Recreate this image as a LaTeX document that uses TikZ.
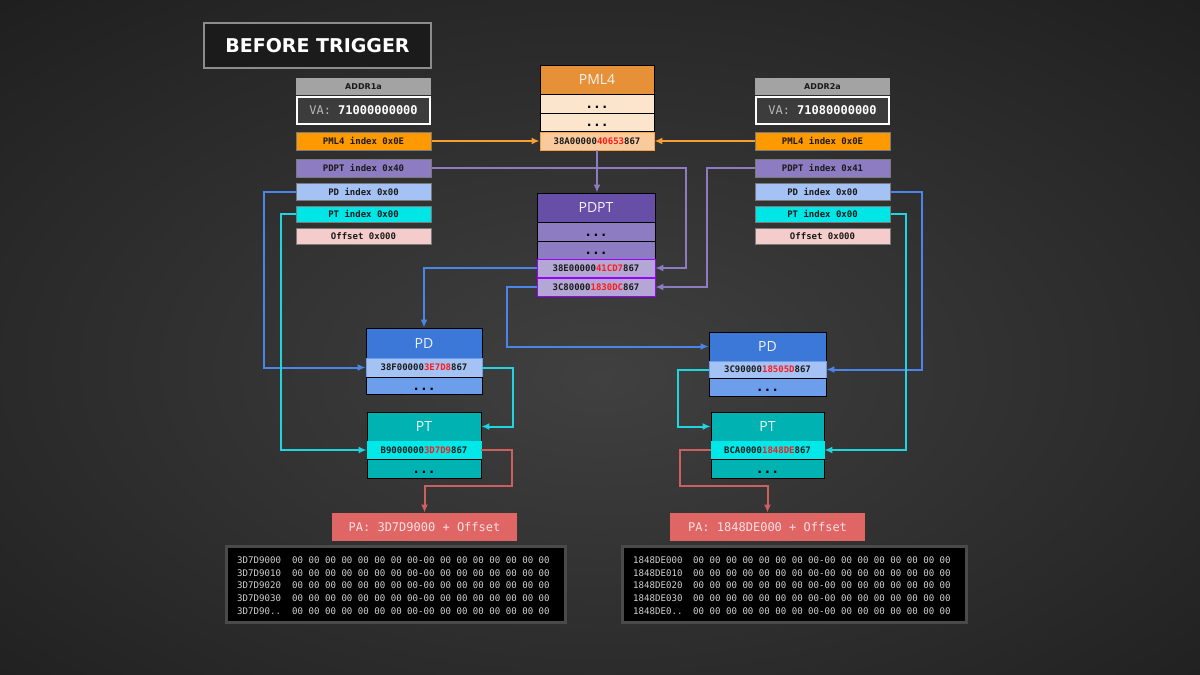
\documentclass[tikz,border=0pt]{standalone}
\usepackage{fontspec}
\setmainfont{Open Sans}
\newfontfamily\mono{DejaVu Sans Mono}
\newfontfamily\dvs{DejaVu Sans}
\usetikzlibrary{arrows.meta}
\definecolor{bgA}{HTML}{404040}
\definecolor{bgB}{HTML}{252525}
\definecolor{bgC}{HTML}{121212}
\pgfdeclareradialshading{bgshade}{\pgfpoint{0bp}{-3bp}}{color(0bp)=(bgA); color(30bp)=(bgB); color(50bp)=(bgC); color(75bp)=(bgC)}
\definecolor{titlefill}{HTML}{1B1B1B}
\definecolor{titleborder}{HTML}{8C8C8C}
\definecolor{addrgray}{HTML}{A3A3A3}
\definecolor{vafill}{HTML}{3C3C3C}
\definecolor{vagray}{HTML}{B8B8B8}
\definecolor{idxborder}{HTML}{7A7A7A}
\definecolor{txtdark}{HTML}{1A1A1A}
\definecolor{cPMLidx}{HTML}{FF9900}
\definecolor{cPDPTidx}{HTML}{8E7CC3}
\definecolor{cPDidx}{HTML}{A4C2F4}
\definecolor{cPTidx}{HTML}{00E5E5}
\definecolor{cOFFidx}{HTML}{F4CCCC}
\definecolor{pmlhdr}{HTML}{E69138}
\definecolor{pmlrow}{HTML}{FCE5CD}
\definecolor{pmlent}{HTML}{F9CB9C}
\definecolor{pmlbord}{HTML}{F5A04A}
\definecolor{pdpthdr}{HTML}{674EA7}
\definecolor{pdptrow}{HTML}{8E7CC3}
\definecolor{pdptent}{HTML}{B4A7D6}
\definecolor{pdptbord}{HTML}{9900FF}
\definecolor{pdhdr}{HTML}{3C78D8}
\definecolor{pdrow}{HTML}{6D9EEB}
\definecolor{pdent}{HTML}{A4C2F4}
\definecolor{pdbord}{HTML}{6D9EEB}
\definecolor{pthdr}{HTML}{00B2B2}
\definecolor{ptent}{HTML}{00E8E8}
\definecolor{hdrtxt}{HTML}{F2F2F2}
\definecolor{hexred}{HTML}{FF1A1A}
\definecolor{pafill}{HTML}{E06666}
\definecolor{patxt}{HTML}{FCE0E0}
\definecolor{memborder}{HTML}{4A4A4A}
\definecolor{memtxt}{HTML}{D2D2D2}
\definecolor{lnOrange}{HTML}{F5A030}
\definecolor{lnPurple}{HTML}{8E7CC3}
\definecolor{lnBlue}{HTML}{4A86E8}
\definecolor{lnCyan}{HTML}{1FD5E0}
\definecolor{lnRed}{HTML}{CC5F5F}
\begin{document}
\begin{tikzpicture}[x=1pt,y=-1pt,
  cell/.style={rectangle, inner sep=0pt, draw=black, line width=0.9pt},
  idx/.style={cell, draw=idxborder, line width=1pt, minimum width=135pt, font=\mono\bfseries\fontsize{9}{10}\selectfont, text=txtdark},
  addrhdr/.style={cell, draw=none, fill=addrgray, minimum width=135pt, minimum height=17pt, font=\dvs\bfseries\fontsize{8}{9}\selectfont, text=txtdark},
  vabox/.style={cell, draw=white, line width=2pt, fill=vafill, minimum width=133pt, minimum height=27pt, font=\mono\fontsize{12}{14}\selectfont, text=white},
  hdr/.style={cell, font=\fontsize{14}{16}\selectfont, text=hdrtxt},
  dotrow/.style={cell, font=\mono\bfseries\fontsize{13}{13}\selectfont, text=black, text height=9pt, text depth=0pt},
  entry/.style={cell, font=\mono\bfseries\fontsize{9}{10}\selectfont, text=txtdark},
  pabox/.style={cell, draw=none, fill=pafill, minimum height=28pt, font=\mono\fontsize{12}{14}\selectfont, text=patxt},
  membox/.style={cell, draw=memborder, line width=3pt, fill=black, minimum height=76pt},
  memtext/.style={inner sep=0pt, anchor=west, align=left, font=\mono\fontsize{9.1}{12.8}\selectfont, text=memtxt},
  conn/.style={line width=2pt, -{Latex[length=8pt,width=7pt]}}
]
\useasboundingbox (0,0) rectangle (1200,675);
\shade[shading=bgshade] (0,0) rectangle (1200,675);

% title
\node[draw=titleborder, line width=1.5pt, fill=titlefill, minimum width=227pt, minimum height=45pt, inner sep=0pt, font=\dvs\bfseries\fontsize{19}{20}\selectfont, text=white] (title) at (317.5,45.5) {BEFORE TRIGGER};

% ADDR1a
\node[addrhdr] (a1hdr) at (363.5,86.5) {ADDR1a};
\node[vabox] (a1va) at (363.5,110) {\textcolor{vagray}{VA:} \textbf{71000000000}};
\node[idx, fill=cPMLidx, minimum height=18pt] (a1pml) at (363.5,141) {PML4 index 0x0E};
\node[idx, fill=cPDPTidx, minimum height=18pt] (a1pdpt) at (363.5,168) {PDPT index 0x40};
\node[idx, fill=cPDidx, minimum height=17pt] (a1pd) at (363.5,192) {PD index 0x00};
\node[idx, fill=cPTidx, minimum height=16pt] (a1pt) at (363.5,214) {PT index 0x00};
\node[idx, fill=cOFFidx, minimum height=16pt] (a1off) at (363.5,236) {Offset 0x000};

% ADDR2a
\node[addrhdr] (a2hdr) at (822.5,86.5) {ADDR2a};
\node[vabox] (a2va) at (822.5,110) {\textcolor{vagray}{VA:} \textbf{71080000000}};
\node[idx, fill=cPMLidx, minimum height=18pt] (a2pml) at (822.5,141) {PML4 index 0x0E};
\node[idx, fill=cPDPTidx, minimum height=18pt] (a2pdpt) at (822.5,168) {PDPT index 0x41};
\node[idx, fill=cPDidx, minimum height=17pt] (a2pd) at (822.5,192) {PD index 0x00};
\node[idx, fill=cPTidx, minimum height=16pt] (a2pt) at (822.5,214) {PT index 0x00};
\node[idx, fill=cOFFidx, minimum height=16pt] (a2off) at (822.5,236) {Offset 0x000};

% PML4 table
\node[hdr, fill=pmlhdr, minimum width=114pt, minimum height=29pt] (pml) at (597,79.5) {PML4};
\node[dotrow, fill=pmlrow, minimum width=114pt, minimum height=19pt] (pmlr1) at (597,103.5) {...};
\node[dotrow, fill=pmlrow, minimum width=114pt, minimum height=18pt] (pmlr2) at (597,122) {...};
\node[entry, fill=pmlent, draw=pmlbord, minimum width=114pt, minimum height=18pt] (pmle) at (597,141) {38A00000\textcolor{hexred}{40653}867};

% PDPT table
\node[hdr, fill=pdpthdr, minimum width=118pt, minimum height=29pt] (pdpt) at (596,207.5) {PDPT};
\node[dotrow, fill=pdptrow, minimum width=118pt, minimum height=19pt] (pdptr1) at (596,231.5) {...};
\node[dotrow, fill=pdptrow, minimum width=118pt, minimum height=18pt] (pdptr2) at (596,250) {...};
\node[entry, fill=pdptent, draw=pdptbord, minimum width=118pt, minimum height=18pt] (pdpte1) at (596,268) {38E00000\textcolor{hexred}{41CD7}867};
\node[entry, fill=pdptent, draw=pdptbord, minimum width=118pt, minimum height=18pt] (pdpte2) at (596,287) {3C80000\textcolor{hexred}{1830DC}867};

% left PD
\node[hdr, fill=pdhdr, minimum width=116pt, minimum height=30pt] (lpd) at (424,343) {PD};
\node[entry, fill=pdent, draw=pdbord, minimum width=116pt, minimum height=19pt] (lpde) at (424,367.5) {38F00000\textcolor{hexred}{3E7D8}867};
\node[dotrow, fill=pdrow, minimum width=116pt, minimum height=17pt] (lpdr) at (424,385.5) {...};

% left PT
\node[hdr, fill=pthdr, minimum width=114pt, minimum height=29pt] (lpt) at (424,426.5) {PT};
\node[entry, fill=ptent, draw=ptent, minimum width=114pt, minimum height=18pt] (lpte) at (424,450) {B9000000\textcolor{hexred}{3D7D9}867};
\node[dotrow, fill=pthdr, minimum width=114pt, minimum height=19pt] (lptr) at (424,468.5) {...};

% right PD
\node[hdr, fill=pdhdr, minimum width=117pt, minimum height=29pt] (rpd) at (767.5,346.5) {PD};
\node[entry, fill=pdent, draw=pdbord, minimum width=117pt, minimum height=17pt] (rpde) at (767.5,369.5) {3C90000\textcolor{hexred}{18505D}867};
\node[dotrow, fill=pdrow, minimum width=117pt, minimum height=18pt] (rpdr) at (767.5,387) {...};

% right PT
\node[hdr, fill=pthdr, minimum width=113pt, minimum height=29pt] (rpt) at (767.5,426.5) {PT};
\node[entry, fill=ptent, draw=ptent, minimum width=113pt, minimum height=18pt] (rpte) at (767.5,450) {BCA0000\textcolor{hexred}{1848DE}867};
\node[dotrow, fill=pthdr, minimum width=113pt, minimum height=19pt] (rptr) at (767.5,468.5) {...};

% PA boxes
\node[pabox, minimum width=185pt] (lpa) at (424.5,527) {PA: 3D7D9000 + Offset};
\node[pabox, minimum width=195pt] (rpa) at (767.5,527) {PA: 1848DE000 + Offset};

% memory dumps
\node[membox, minimum width=339pt] (lmem) at (395.5,584) {};
\node[memtext] (lmemaddr) at (237,585.5) {3D7D9000\\3D7D9010\\3D7D9020\\3D7D9030\\3D7D90..};
\node[memtext] (lmembytes) at (292,585.5) {00 00 00 00 00 00 00 00-00 00 00 00 00 00 00 00\\00 00 00 00 00 00 00 00-00 00 00 00 00 00 00 00\\00 00 00 00 00 00 00 00-00 00 00 00 00 00 00 00\\00 00 00 00 00 00 00 00-00 00 00 00 00 00 00 00\\00 00 00 00 00 00 00 00-00 00 00 00 00 00 00 00};
\node[membox, minimum width=344pt] (rmem) at (794,584) {};
\node[memtext] (rmemaddr) at (633,585.5) {1848DE000\\1848DE010\\1848DE020\\1848DE030\\1848DE0..};
\node[memtext] (rmembytes) at (693,585.5) {00 00 00 00 00 00 00 00-00 00 00 00 00 00 00 00\\00 00 00 00 00 00 00 00-00 00 00 00 00 00 00 00\\00 00 00 00 00 00 00 00-00 00 00 00 00 00 00 00\\00 00 00 00 00 00 00 00-00 00 00 00 00 00 00 00\\00 00 00 00 00 00 00 00-00 00 00 00 00 00 00 00};

% connectors
\draw[conn, lnOrange] (a1pml.east) -- (pmle.west);
\draw[conn, lnOrange] (a2pml.west) -- (pmle.east);
\draw[conn, lnPurple] (pmle.south) -- (pmle.south |- pdpt.north);
\draw[conn, lnPurple] (a1pdpt.east) -- ++(254,0) |- (pdpte1.east);
\draw[conn, lnPurple] (a2pdpt.west) -- ++(-48,0) |- (pdpte2.east);
\draw[conn, lnBlue] (pdpte1.west) -| (lpd.north);
\draw[conn, lnBlue] (pdpte2.west) -- ++(-30,0) |- (rpd.west);
\draw[conn, lnBlue] (a1pd.west) -- ++(-32,0) |- (lpde.west);
\draw[conn, lnCyan] (a1pt.west) -- ++(-15,0) |- (lpte.west);
\draw[conn, lnBlue] (a2pd.east) -- ++(31,0) |- (rpde.east);
\draw[conn, lnCyan] (a2pt.east) -- ++(15,0) |- (rpte.east);
\draw[conn, lnCyan] (lpde.east) -- ++(31,0) |- (lpt.east);
\draw[conn, lnCyan] (rpde.west) -- ++(-31,0) |- (rpt.west);
\draw[conn, lnRed] (lpte.east) -- ++(31,0) -- ++(0,36) -| (lpa.north);
\draw[conn, lnRed] (rpte.west) -- ++(-31,0) -- ++(0,36) -| (rpa.north);
\end{tikzpicture}
\end{document}
